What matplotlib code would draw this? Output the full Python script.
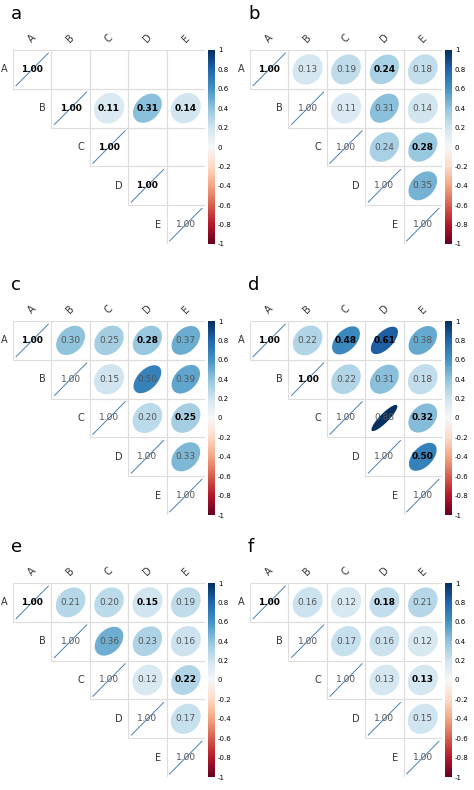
import numpy as np
import matplotlib.pyplot as plt
from matplotlib.patches import Polygon, Rectangle
from matplotlib.colors import Normalize
from matplotlib.colorbar import ColorbarBase

labels = ["A", "B", "C", "D", "E"]
panel_names = ["a", "b", "c", "d", "e", "f"]

# upper-triangle correlations, keyed (row, col); missing = blank cell
corr_a = {(1, 2): 0.11, (1, 3): 0.31, (1, 4): 0.14}
corr_b = {(0, 1): 0.13, (0, 2): 0.19, (0, 3): 0.24, (0, 4): 0.18,
          (1, 2): 0.11, (1, 3): 0.31, (1, 4): 0.14,
          (2, 3): 0.24, (2, 4): 0.28, (3, 4): 0.35}
corr_c = {(0, 1): 0.30, (0, 2): 0.25, (0, 3): 0.28, (0, 4): 0.37,
          (1, 2): 0.15, (1, 3): 0.50, (1, 4): 0.39,
          (2, 3): 0.20, (2, 4): 0.25, (3, 4): 0.33}
corr_d = {(0, 1): 0.22, (0, 2): 0.48, (0, 3): 0.61, (0, 4): 0.38,
          (1, 2): 0.22, (1, 3): 0.31, (1, 4): 0.18,
          (2, 3): 0.88, (2, 4): 0.32, (3, 4): 0.50}
corr_e = {(0, 1): 0.21, (0, 2): 0.20, (0, 3): 0.15, (0, 4): 0.19,
          (1, 2): 0.36, (1, 3): 0.23, (1, 4): 0.16,
          (2, 3): 0.12, (2, 4): 0.22, (3, 4): 0.17}
corr_f = {(0, 1): 0.16, (0, 2): 0.12, (0, 3): 0.18, (0, 4): 0.21,
          (1, 2): 0.17, (1, 3): 0.16, (1, 4): 0.12,
          (2, 3): 0.13, (2, 4): 0.13, (3, 4): 0.15}
corrs = [corr_a, corr_b, corr_c, corr_d, corr_e, corr_f]

# cells whose label is bold black (others grey)
bold_a = [(0, 0), (1, 1), (2, 2), (3, 3), (1, 2), (1, 3), (1, 4)]
bold_b = [(0, 0), (0, 3), (2, 4)]
bold_c = [(0, 0), (0, 3), (2, 4)]
bold_d = [(0, 0), (1, 1), (0, 2), (0, 3), (2, 4), (3, 4)]
bold_e = [(0, 0), (0, 3), (2, 4)]
bold_f = [(0, 0), (0, 3), (2, 4)]
bolds = [bold_a, bold_b, bold_c, bold_d, bold_e, bold_f]

W, H = 474, 790
fig = plt.figure(figsize=(W / 100, H / 100), dpi=100)
cmap = plt.get_cmap("RdBu")
norm = Normalize(-1, 1)
tops = [50, 321, 583]
t = np.linspace(0, 2 * np.pi, 80)


def px(x, y, w, h):
    return [x / W, 1 - (y + h) / H, w / W, h / H]


for i, name in enumerate(panel_names):
    col, row = i % 2, i // 2
    x0 = 13 + 237 * col
    y0 = tops[row]
    fig.text((x0 - 2) / W, 1 - (y0 - 36) / H, name, fontsize=13, va="center")
    ax = fig.add_axes(px(x0, y0, 192, 194))
    ax.set_xlim(0, 5)
    ax.set_ylim(5, 0)
    ax.axis("off")
    corr = corrs[i]
    for r in range(5):
        for c in range(r, 5):
            ax.add_patch(Rectangle((c, r), 1, 1, fill=False, ec="#dddddd", lw=0.8))
            bold = (r, c) in bolds[i]
            tc = "black" if bold else "#555555"
            fw = "bold" if bold else "normal"
            if r == c:
                ax.plot([c + 0.08, c + 0.92], [r + 0.92, r + 0.08], color="#4a7fb0", lw=0.7)
                ax.text(c + 0.5, r + 0.5, "1.00", ha="center", va="center",
                        fontsize=6.5, color=tc, fontweight=fw)
            elif (r, c) in corr:
                v = corr[(r, c)]
                d = np.arccos(v)
                k = 0.46 / np.cos(d / 2) ** 0.6
                ex = k * 0.72 * np.cos(t + d / 2)
                ey = k * 0.72 * np.cos(t - d / 2)
                ax.add_patch(Polygon(np.c_[c + 0.5 + ex, r + 0.5 - ey],
                                     fc=cmap(0.5 + 0.5 * min(1, v * 1.35)), ec="none"))
                ax.text(c + 0.5, r + 0.5, f"{v:.2f}", ha="center", va="center",
                        fontsize=6.5, color=tc, fontweight=fw)
        ax.text(r - 0.15, r + 0.5, labels[r], ha="right", va="center", fontsize=7, color="#333333")
        ax.text(r + 0.5, -0.15, labels[r], ha="center", va="bottom", fontsize=7,
                rotation=45, color="#333333")
    cax = fig.add_axes(px(x0 + 195, y0, 7, 194))
    cb = ColorbarBase(cax, cmap=cmap, norm=norm, ticks=np.arange(-1, 1.01, 0.2))
    cb.ax.set_yticklabels([f"{v:g}" if abs(v) > 1e-9 else "0" for v in np.round(np.arange(-1, 1.01, 0.2), 1)])
    cb.ax.tick_params(labelsize=5, length=0, pad=2)
    cb.outline.set_visible(False)

fig.savefig("out.png", dpi=100)
